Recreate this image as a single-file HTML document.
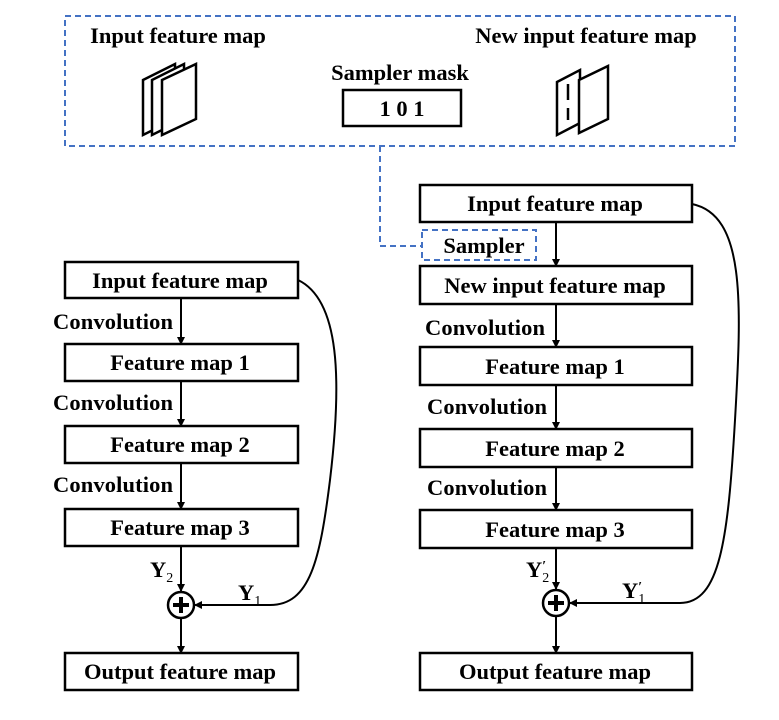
<!DOCTYPE html>
<html><head><meta charset="utf-8"><style>
html,body{margin:0;padding:0;background:#fff}
text{font-family:"Liberation Serif",serif;font-weight:bold;font-size:22.5px;fill:#000}
</style></head><body>
<svg width="779" height="715" viewBox="0 0 779 715" xmlns="http://www.w3.org/2000/svg">
<defs><marker id="a" markerWidth="8" markerHeight="8" refX="7" refY="4" orient="auto" markerUnits="userSpaceOnUse"><path d="M0,0 L8,4 L0,8 z" fill="#000"/></marker></defs>
<g fill="none" stroke="#4472C4" stroke-width="2" stroke-dasharray="6,4">
<rect x="65" y="16" width="670" height="130"/>
<path d="M380,146 V246 H422"/>
<rect x="422" y="230" width="114" height="30"/>
</g>
<text x="178" y="43" text-anchor="middle">Input feature map</text>
<text x="586" y="43" text-anchor="middle">New input feature map</text>
<text x="400" y="80" text-anchor="middle">Sampler mask</text>
<rect x="343" y="90" width="118" height="36" fill="none" stroke="#000" stroke-width="2.5"/>
<text x="402" y="116" text-anchor="middle">1 0 1</text>
<g fill="#fff" stroke="#000" stroke-width="2.5">
<path d="M143,80 L175,64 L175,119 L143,135 Z"/>
<path d="M152,80 L184,64 L184,119 L152,135 Z"/>
<path d="M162,80 L196,64 L196,119 L162,135 Z"/>
<path d="M557,82 L580,70 L580,123 L557,135 Z"/>
<path d="M579,80 L608,66 L608,119 L579,133 Z"/>
</g>
<path d="M568,84 V100 M568,108 V120" stroke="#000" stroke-width="2.5"/>
<text x="484" y="253" text-anchor="middle">Sampler</text>
<g fill="#fff" stroke="#000" stroke-width="2.5">
<rect x="65" y="262" width="233" height="36"/>
<rect x="65" y="344" width="233" height="37"/>
<rect x="65" y="426" width="233" height="37"/>
<rect x="65" y="509" width="233" height="37"/>
<rect x="65" y="653" width="233" height="37"/>
<rect x="420" y="185" width="272" height="37"/>
<rect x="420" y="266" width="272" height="38"/>
<rect x="420" y="347" width="272" height="38"/>
<rect x="420" y="429" width="272" height="38"/>
<rect x="420" y="510" width="272" height="38"/>
<rect x="420" y="653" width="272" height="37"/>
</g>
<g text-anchor="middle">
<text x="180" y="288">Input feature map</text>
<text x="180" y="370">Feature map 1</text>
<text x="180" y="452">Feature map 2</text>
<text x="180" y="535">Feature map 3</text>
<text x="180" y="679">Output feature map</text>
<text x="555" y="211">Input feature map</text>
<text x="555" y="293">New input feature map</text>
<text x="555" y="374">Feature map 1</text>
<text x="555" y="456">Feature map 2</text>
<text x="555" y="537">Feature map 3</text>
<text x="555" y="679">Output feature map</text>
</g>
<text x="53" y="329" textLength="120">Convolution</text>
<text x="53" y="410" textLength="120">Convolution</text>
<text x="53" y="492" textLength="120">Convolution</text>
<text x="425" y="335" textLength="120">Convolution</text>
<text x="427" y="414" textLength="120">Convolution</text>
<text x="427" y="495" textLength="120">Convolution</text>
<g stroke="#000" stroke-width="2" fill="none" marker-end="url(#a)">
<path d="M181,298 V344"/><path d="M181,381 V426"/><path d="M181,463 V509"/>
<path d="M181,546 V591"/><path d="M181,619 V653"/>
<path d="M556,222 V266"/><path d="M556,304 V347"/><path d="M556,385 V429"/><path d="M556,467 V510"/>
<path d="M556,548 V589"/><path d="M556,617 V653"/>
<path d="M298,280 C340,300 342,380 330,480 C320,560 310,605 270,605 H195"/>
<path d="M692,204 C745,215 742,300 735,420 C728,540 720,603 680,603 H570"/>
</g>
<g stroke="#000" stroke-width="2.5" fill="none">
<circle cx="181" cy="605" r="13"/><circle cx="556" cy="603" r="13"/>
</g>
<path d="M181,597 V613 M173,605 H189 M556,595 V611 M548,603 H564" stroke="#000" stroke-width="4"/>
<text x="150" y="577" font-size="20">Y<tspan font-size="14" dy="5" font-weight="normal">2</tspan></text>
<text x="238" y="600" font-size="20">Y<tspan font-size="14" dy="5" font-weight="normal">1</tspan></text>
<text x="526" y="577" font-size="20">Y<tspan font-size="14" dy="5" font-weight="normal">2</tspan><tspan font-size="14" dx="-7" dy="-12">′</tspan></text>
<text x="622" y="598" font-size="20">Y<tspan font-size="14" dy="5" font-weight="normal">1</tspan><tspan font-size="14" dx="-7" dy="-12">′</tspan></text>
</svg>
</body></html>
